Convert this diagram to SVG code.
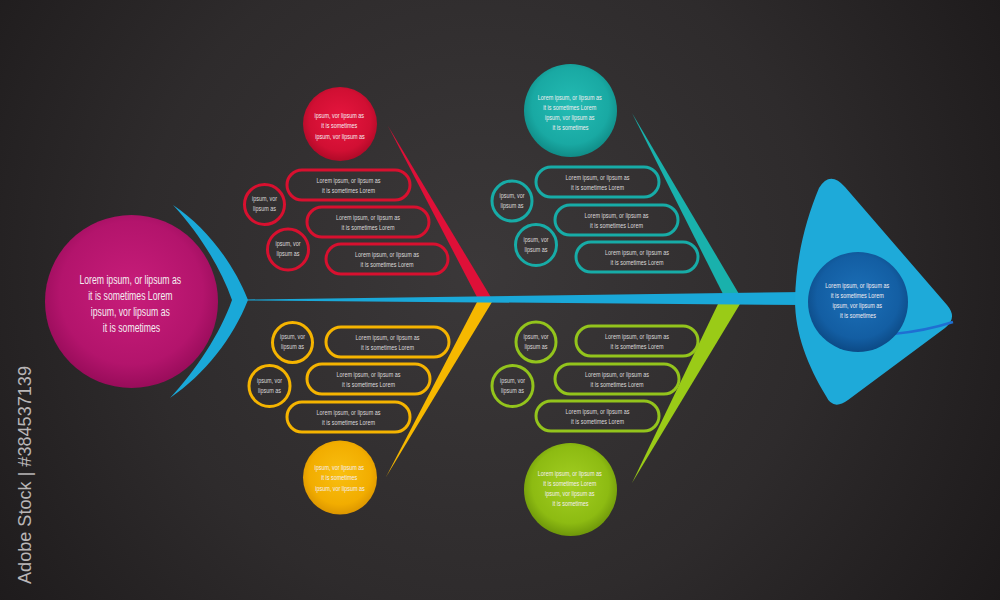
<svg xmlns="http://www.w3.org/2000/svg" width="1000" height="600" viewBox="0 0 1000 600">
  <defs>
    <radialGradient id="bg" cx="480" cy="270" r="620" gradientUnits="userSpaceOnUse">
      <stop offset="0" stop-color="#3b3839"/>
      <stop offset="0.55" stop-color="#2e2b2c"/>
      <stop offset="1" stop-color="#1c191a"/>
    </radialGradient>
    <radialGradient id="gMag" cx="0.5" cy="0.45" r="0.55">
      <stop offset="0" stop-color="#c81d7a"/>
      <stop offset="0.75" stop-color="#b3146c"/>
      <stop offset="1" stop-color="#980c5a"/>
    </radialGradient>
    <radialGradient id="gRed" cx="0.5" cy="0.45" r="0.55">
      <stop offset="0" stop-color="#e8163f"/>
      <stop offset="0.75" stop-color="#d10f33"/>
      <stop offset="1" stop-color="#b00a28"/>
    </radialGradient>
    <radialGradient id="gTeal" cx="0.5" cy="0.45" r="0.55">
      <stop offset="0" stop-color="#24bcb4"/>
      <stop offset="0.75" stop-color="#19a9a3"/>
      <stop offset="1" stop-color="#108c87"/>
    </radialGradient>
    <radialGradient id="gYel" cx="0.5" cy="0.45" r="0.55">
      <stop offset="0" stop-color="#f9bf10"/>
      <stop offset="0.75" stop-color="#f2ad00"/>
      <stop offset="1" stop-color="#dc9600"/>
    </radialGradient>
    <radialGradient id="gGrn" cx="0.5" cy="0.45" r="0.55">
      <stop offset="0" stop-color="#a3cf22"/>
      <stop offset="0.75" stop-color="#8dbb12"/>
      <stop offset="1" stop-color="#6e970a"/>
    </radialGradient>
    <radialGradient id="gBlue" cx="0.5" cy="0.45" r="0.55">
      <stop offset="0" stop-color="#1c70b8"/>
      <stop offset="0.75" stop-color="#135ea3"/>
      <stop offset="1" stop-color="#0c4a86"/>
    </radialGradient>
    <style>
      .t { font-family: "Liberation Sans", Arial, sans-serif; fill: #f4eef1; text-anchor: middle; font-size: 7.8px; }
      .pt { fill: #dcd9da; }
      .big { font-size: 12.4px; }
      .pill { fill: none; stroke-width: 3; }
      .ring { fill: none; stroke-width: 3; }
      .red { stroke: #d8102f; }
      .teal { stroke: #17aca7; }
      .yel { stroke: #f5b400; }
      .grn { stroke: #93c41c; }
      .wm { font-family: "Liberation Sans", Arial, sans-serif; fill: #b9b6b7; font-size: 18px; }
    </style>
  </defs>

  <rect x="0" y="0" width="1000" height="600" fill="url(#bg)"/>

  <!-- watermark id strip -->
  <text class="wm" transform="translate(31,584) rotate(-90)" x="0" y="0" textLength="218" lengthAdjust="spacingAndGlyphs">Adobe Stock | #384537139</text>

  <!-- connectors: spine, tail, bones -->
  <g id="connectors">
    <polygon id="bone-red" points="388,126 492,299 478,299" fill="#df1038"/>
    <polygon id="bone-teal" points="632,113 739,294 723,294" fill="#19b1ac"/>
    <polygon id="bone-yellow" points="386,477 492,302 477,302" fill="#f6b800"/>
    <polygon id="bone-green" points="632,483 740,304 718,304" fill="#9acb17"/>
    <polygon id="spine" points="246,299.5 805,292 805,305 246,300.5" fill="#1aa8d8"/>
    <path id="tail" d="M173,205 C205,226 233,262 248,300 C233,338 205,374 170,398 C196,370 220,334 232,300 C220,266 198,232 173,205 Z" fill="#1aa8d8"/>
  </g>

  <!-- head -->
  <g id="head">
    <path d="M819,188 Q830,170 845,187 L947,305 Q958,318 945,328 L848,400 Q833,411 826,396 C808,366 795,334 795,300 C796,258 805,222 819,188 Z" fill="#1eaad9"/>
    <path d="M893,334 Q925,331 953,322" fill="none" stroke="#1f6fd2" stroke-width="2.5"/>
    <circle cx="858" cy="302" r="50" fill="url(#gBlue)"/>
    <text class="t" transform="matrix(0.7 0 0 1 858 0)">
      <tspan x="0" y="288">Lorem ipsum, or lipsum as</tspan>
      <tspan x="0" y="298">it is sometimes Lorem</tspan>
      <tspan x="0" y="308">ipsum, vor lipsum as</tspan>
      <tspan x="0" y="318">it is sometimes</tspan>
    </text>
  </g>

  <!-- tail circle -->
  <g id="tail-circle">
    <circle cx="131.5" cy="301.5" r="86.5" fill="url(#gMag)"/>
    <text class="t big" transform="matrix(0.7 0 0 1 131.5 0)">
      <tspan x="0" y="284">Lorem ipsum, or lipsum as</tspan>
      <tspan x="0" y="300">it is sometimes Lorem</tspan>
      <tspan x="0" y="316">ipsum, vor lipsum as</tspan>
      <tspan x="0" y="332">it is sometimes</tspan>
    </text>
  </g>

  <!-- RED branch -->
  <g id="red-main">
    <circle cx="340" cy="124" r="37" fill="url(#gRed)"/>
    <text class="t" transform="matrix(0.7 0 0 1 340 0)">
      <tspan x="0" y="118">ipsum, vor lipsum as</tspan>
      <tspan x="0" y="128.5">it is sometimes</tspan>
      <tspan x="0" y="139">ipsum, vor lipsum as</tspan>
    </text>
  </g>
  <g id="red-pill-1">
    <rect class="pill red" x="287" y="170" width="123" height="30" rx="15"/>
    <text class="t pt" transform="matrix(0.7 0 0 1 348.5 0)"><tspan x="0" y="183">Lorem ipsum, or lipsum as</tspan><tspan x="0" y="193">it is sometimes Lorem</tspan></text>
  </g>
  <g id="red-pill-2">
    <rect class="pill red" x="307" y="207" width="122" height="30" rx="15"/>
    <text class="t pt" transform="matrix(0.7 0 0 1 368 0)"><tspan x="0" y="220">Lorem ipsum, or lipsum as</tspan><tspan x="0" y="230">it is sometimes Lorem</tspan></text>
  </g>
  <g id="red-pill-3">
    <rect class="pill red" x="326" y="244" width="122" height="30" rx="15"/>
    <text class="t pt" transform="matrix(0.7 0 0 1 387 0)"><tspan x="0" y="257">Lorem ipsum, or lipsum as</tspan><tspan x="0" y="267">it is sometimes Lorem</tspan></text>
  </g>
  <g id="red-ring-1">
    <circle class="ring red" cx="264.5" cy="204.5" r="20"/>
    <text class="t pt" transform="matrix(0.7 0 0 1 264.5 0)"><tspan x="0" y="201.5">ipsum, vor</tspan><tspan x="0" y="211.5">lipsum as</tspan></text>
  </g>
  <g id="red-ring-2">
    <circle class="ring red" cx="288" cy="249.5" r="20.5"/>
    <text class="t pt" transform="matrix(0.7 0 0 1 288 0)"><tspan x="0" y="246.5">ipsum, vor</tspan><tspan x="0" y="256.5">lipsum as</tspan></text>
  </g>

  <!-- TEAL branch -->
  <g id="teal-main">
    <circle cx="570.5" cy="110.5" r="46.5" fill="url(#gTeal)"/>
    <text class="t" transform="matrix(0.7 0 0 1 570.5 0)">
      <tspan x="0" y="100.5">Lorem ipsum, or lipsum as</tspan>
      <tspan x="0" y="110.5">it is sometimes Lorem</tspan>
      <tspan x="0" y="120.5">ipsum, vor lipsum as</tspan>
      <tspan x="0" y="130.5">it is sometimes</tspan>
    </text>
  </g>
  <g id="teal-pill-1">
    <rect class="pill teal" x="536" y="167" width="123" height="30" rx="15"/>
    <text class="t pt" transform="matrix(0.7 0 0 1 597.5 0)"><tspan x="0" y="180">Lorem ipsum, or lipsum as</tspan><tspan x="0" y="190">it is sometimes Lorem</tspan></text>
  </g>
  <g id="teal-pill-2">
    <rect class="pill teal" x="555" y="205" width="123" height="30" rx="15"/>
    <text class="t pt" transform="matrix(0.7 0 0 1 616.5 0)"><tspan x="0" y="218">Lorem ipsum, or lipsum as</tspan><tspan x="0" y="228">it is sometimes Lorem</tspan></text>
  </g>
  <g id="teal-pill-3">
    <rect class="pill teal" x="576" y="242" width="122" height="30" rx="15"/>
    <text class="t pt" transform="matrix(0.7 0 0 1 637 0)"><tspan x="0" y="255">Lorem ipsum, or lipsum as</tspan><tspan x="0" y="265">it is sometimes Lorem</tspan></text>
  </g>
  <g id="teal-ring-1">
    <circle class="ring teal" cx="512" cy="201" r="20"/>
    <text class="t pt" transform="matrix(0.7 0 0 1 512 0)"><tspan x="0" y="198">ipsum, vor</tspan><tspan x="0" y="208">lipsum as</tspan></text>
  </g>
  <g id="teal-ring-2">
    <circle class="ring teal" cx="536" cy="245" r="20.5"/>
    <text class="t pt" transform="matrix(0.7 0 0 1 536 0)"><tspan x="0" y="242">ipsum, vor</tspan><tspan x="0" y="252">lipsum as</tspan></text>
  </g>

  <!-- YELLOW branch -->
  <g id="yellow-pill-1">
    <rect class="pill yel" x="326" y="327" width="123" height="30" rx="15"/>
    <text class="t pt" transform="matrix(0.7 0 0 1 387.5 0)"><tspan x="0" y="340">Lorem ipsum, or lipsum as</tspan><tspan x="0" y="350">it is sometimes Lorem</tspan></text>
  </g>
  <g id="yellow-pill-2">
    <rect class="pill yel" x="307" y="364" width="123" height="30" rx="15"/>
    <text class="t pt" transform="matrix(0.7 0 0 1 368.5 0)"><tspan x="0" y="377">Lorem ipsum, or lipsum as</tspan><tspan x="0" y="387">it is sometimes Lorem</tspan></text>
  </g>
  <g id="yellow-pill-3">
    <rect class="pill yel" x="287" y="402" width="123" height="30" rx="15"/>
    <text class="t pt" transform="matrix(0.7 0 0 1 348.5 0)"><tspan x="0" y="415">Lorem ipsum, or lipsum as</tspan><tspan x="0" y="425">it is sometimes Lorem</tspan></text>
  </g>
  <g id="yellow-ring-1">
    <circle class="ring yel" cx="292.5" cy="342.5" r="20"/>
    <text class="t pt" transform="matrix(0.7 0 0 1 292.5 0)"><tspan x="0" y="339.5">ipsum, vor</tspan><tspan x="0" y="349.5">lipsum as</tspan></text>
  </g>
  <g id="yellow-ring-2">
    <circle class="ring yel" cx="269.5" cy="386" r="20.5"/>
    <text class="t pt" transform="matrix(0.7 0 0 1 269.5 0)"><tspan x="0" y="383">ipsum, vor</tspan><tspan x="0" y="393">lipsum as</tspan></text>
  </g>
  <g id="yellow-main">
    <circle cx="340" cy="477.5" r="37" fill="url(#gYel)"/>
    <text class="t" transform="matrix(0.7 0 0 1 340 0)">
      <tspan x="0" y="470.5">ipsum, vor lipsum as</tspan>
      <tspan x="0" y="480.5">it is sometimes</tspan>
      <tspan x="0" y="491">ipsum, vor lipsum as</tspan>
    </text>
  </g>

  <!-- GREEN branch -->
  <g id="green-pill-1">
    <rect class="pill grn" x="576" y="326" width="122" height="30" rx="15"/>
    <text class="t pt" transform="matrix(0.7 0 0 1 637 0)"><tspan x="0" y="339">Lorem ipsum, or lipsum as</tspan><tspan x="0" y="349">it is sometimes Lorem</tspan></text>
  </g>
  <g id="green-pill-2">
    <rect class="pill grn" x="555" y="364" width="124" height="30" rx="15"/>
    <text class="t pt" transform="matrix(0.7 0 0 1 617 0)"><tspan x="0" y="377">Lorem ipsum, or lipsum as</tspan><tspan x="0" y="387">it is sometimes Lorem</tspan></text>
  </g>
  <g id="green-pill-3">
    <rect class="pill grn" x="536" y="401" width="123" height="30" rx="15"/>
    <text class="t pt" transform="matrix(0.7 0 0 1 597.5 0)"><tspan x="0" y="414">Lorem ipsum, or lipsum as</tspan><tspan x="0" y="424">it is sometimes Lorem</tspan></text>
  </g>
  <g id="green-ring-1">
    <circle class="ring grn" cx="536" cy="342" r="20"/>
    <text class="t pt" transform="matrix(0.7 0 0 1 536 0)"><tspan x="0" y="339">ipsum, vor</tspan><tspan x="0" y="349">lipsum as</tspan></text>
  </g>
  <g id="green-ring-2">
    <circle class="ring grn" cx="512.5" cy="386" r="20.5"/>
    <text class="t pt" transform="matrix(0.7 0 0 1 512.5 0)"><tspan x="0" y="383">ipsum, vor</tspan><tspan x="0" y="393">lipsum as</tspan></text>
  </g>
  <g id="green-main">
    <circle cx="570.5" cy="489.5" r="46.5" fill="url(#gGrn)"/>
    <text class="t" transform="matrix(0.7 0 0 1 570.5 0)">
      <tspan x="0" y="476.5">Lorem ipsum, or lipsum as</tspan>
      <tspan x="0" y="486.5">it is sometimes Lorem</tspan>
      <tspan x="0" y="496.5">ipsum, vor lipsum as</tspan>
      <tspan x="0" y="506.5">it is sometimes</tspan>
    </text>
  </g>
</svg>
